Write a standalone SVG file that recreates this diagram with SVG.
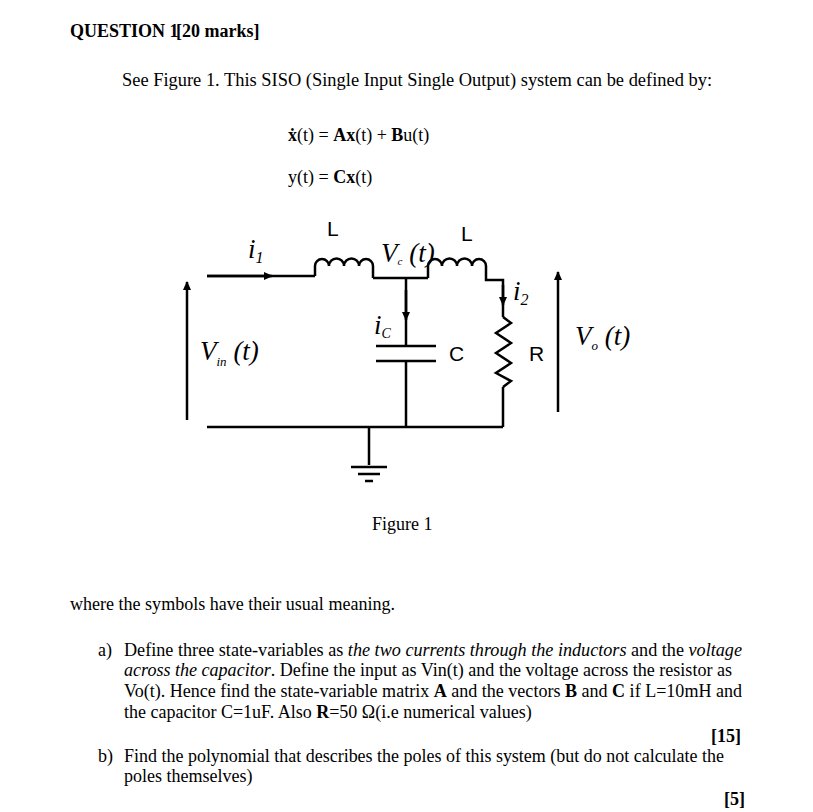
<svg xmlns="http://www.w3.org/2000/svg" width="813" height="812" viewBox="0 0 813 812">
<style>
.t{font-family:"Liberation Serif",serif;font-size:18px;fill:#000}
.b{font-weight:bold}
.s{font-family:"Liberation Sans",sans-serif;font-size:21px;fill:#000}
.w{stroke:#000;stroke-width:2.5;fill:none}
.m{font-family:"Liberation Serif",serif;font-style:italic;font-size:27px;fill:#000}
</style>
<defs><marker id="ah" markerWidth="10" markerHeight="10" refX="8" refY="5" orient="auto" markerUnits="userSpaceOnUse"><path d="M0,1 L9,5 L0,9 Z" fill="#000"/></marker></defs>
<rect width="813" height="812" fill="#fff"/>
<text class="t b" x="70" y="37" font-size="17">QUESTION 1</text>
<text class="t b" x="176" y="37" font-size="17">[20 marks]</text>
<text class="t" x="122" y="86" textLength="590" lengthAdjust="spacingAndGlyphs">See Figure 1. This SISO (Single Input Single Output) system can be defined by:</text>
<text class="t" x="288" y="141"><tspan font-weight="bold">ẋ</tspan>(t) = <tspan font-weight="bold">Ax</tspan>(t) + <tspan font-weight="bold">B</tspan>u(t)</text>
<text class="t" x="288" y="183">y(t) = <tspan font-weight="bold">Cx</tspan>(t)</text>
<g id="connectors">
<path class="w" d="M207,276 H315 M373,278 H428 M486,278 V280 H503 V317 M503,387 V427 M207,427 H503 M406,278 V346 M406,361 V427 M369,427 V465"/>
<path class="w" d="M207,276 H272" marker-end="url(#ah)"/>
<path class="w" d="M406,290 V320" marker-end="url(#ah)"/>
<path class="w" d="M503,285 V305" marker-end="url(#ah)"/>
<path class="w" d="M187,420 V282" marker-end="url(#ah)"/>
<path class="w" d="M558,412 V272" marker-end="url(#ah)"/>
</g>
<g id="L1"><path class="w" d="M315,276 V266 a7,7 0 0 1 14,0 a7,7 0 0 1 15,0 a7,7 0 0 1 15,0 a7,7 0 0 1 14,0 V278"/></g>
<g id="L2"><path class="w" d="M428,278 V266 a7,7 0 0 1 14,0 a7,7 0 0 1 15,0 a7,7 0 0 1 15,0 a7,7 0 0 1 14,0 V278"/></g>
<g id="C"><path class="w" d="M376,346 H436 M376,361 H436"/></g>
<g id="R"><path class="w" d="M503,317 L511,323 L496,333 L511,343 L496,353 L511,363 L496,373 L511,381 L503,387"/></g>
<g id="GND"><path class="w" d="M351,467 H387 M358,474 H380 M365,481 H373"/></g>
<text class="s" x="327" y="236">L</text>
<text class="s" x="461" y="241">L</text>
<text class="s" x="449" y="361">C</text>
<text class="s" x="529" y="361">R</text>
<text class="m" x="248" y="258">i<tspan font-size="16" dy="5">1</tspan></text>
<text class="m" x="381" y="262" font-size="22">V<tspan font-size="11" dy="3">c</tspan><tspan dy="-3"> (t)</tspan></text>
<text class="m" x="513" y="300">i<tspan font-size="16" dy="5">2</tspan></text>
<text class="m" x="374" y="334" font-size="22">i<tspan font-size="14" dy="4">C</tspan></text>
<text class="m" x="200" y="360">V<tspan font-size="13" dy="6">in</tspan><tspan dy="-6"> (t)</tspan></text>
<text class="m" x="575" y="345">V<tspan font-size="13" dy="5">o</tspan><tspan dy="-5"> (t)</tspan></text>
<text class="t" x="372" y="530" font-size="19">Figure 1</text>
<text class="t" x="70" y="610" textLength="325" lengthAdjust="spacingAndGlyphs">where the symbols have their usual meaning.</text>
<text class="t" x="98" y="656">a)</text>
<text class="t" x="124" y="656" textLength="618" lengthAdjust="spacingAndGlyphs">Define three state-variables as <tspan font-style="italic">the two currents through the inductors</tspan> and the <tspan font-style="italic">voltage</tspan></text>
<text class="t" x="124" y="676" textLength="608" lengthAdjust="spacingAndGlyphs"><tspan font-style="italic">across the capacitor</tspan>. Define the input as Vin(t) and the voltage across the resistor as</text>
<text class="t" x="124" y="697" textLength="618" lengthAdjust="spacingAndGlyphs">Vo(t). Hence find the state-variable matrix <tspan font-weight="bold">A</tspan> and the vectors <tspan font-weight="bold">B</tspan> and <tspan font-weight="bold">C</tspan> if L=10mH and</text>
<text class="t" x="124" y="718">the capacitor C=1uF. Also <tspan font-weight="bold">R</tspan>=50 Ω(i.e numerical values)</text>
<text class="t b" x="741" y="742" text-anchor="end">[15]</text>
<text class="t" x="98" y="762">b)</text>
<text class="t" x="124" y="762" textLength="600" lengthAdjust="spacingAndGlyphs">Find the polynomial that describes the poles of this system (but do not calculate the</text>
<text class="t" x="124" y="782">poles themselves)</text>
<text class="t b" x="745" y="805" text-anchor="end">[5]</text>
</svg>
